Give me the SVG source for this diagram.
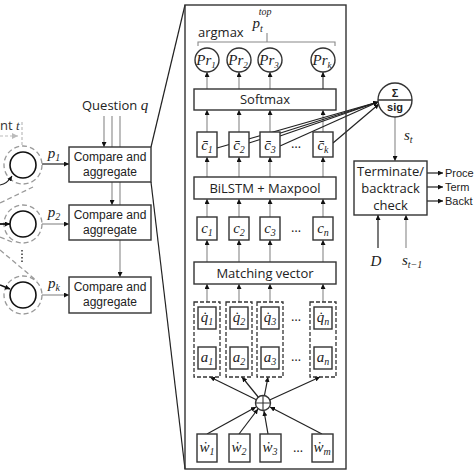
<svg xmlns="http://www.w3.org/2000/svg" width="474" height="474" viewBox="0 0 474 474">
<defs>
<marker id="ah" viewBox="0 0 6 6" refX="6" refY="3" markerWidth="5" markerHeight="5" markerUnits="userSpaceOnUse" orient="auto"><path d="M0,0 L6,3 L0,6 z" fill="#111"/></marker>
<marker id="ahg" viewBox="0 0 6 6" refX="6" refY="3" markerWidth="6" markerHeight="6" markerUnits="userSpaceOnUse" orient="auto"><path d="M0,0 L6,3 L0,6 z" fill="#bbb"/></marker>
<style>
.box{fill:#fff;stroke:#333;stroke-width:1.4}
.dbox{fill:none;stroke:#333;stroke-width:1.3;stroke-dasharray:4,2}
.ln{fill:none;stroke:#888;stroke-width:1.1}
.lk{fill:none;stroke:#222;stroke-width:1.2}
.dg{fill:none;stroke:#999;stroke-width:1.3;stroke-dasharray:5,3}
.t{font-family:"Open Sans","Noto Sans","Liberation Sans",sans-serif;font-size:13px;fill:#222;text-anchor:middle}
.o{font-family:"Liberation Sans",Arial,sans-serif;font-size:11px;fill:#222}
.ca{font-family:"Liberation Sans",Arial,sans-serif;font-size:12px;fill:#222;text-anchor:middle}
.m{font-family:"Liberation Serif","DejaVu Serif",serif;font-style:italic;font-size:15px;fill:#222;text-anchor:middle}
.s{font-size:10px}
</style>
</defs>

<g id="connectors">
<line x1="151" y1="147" x2="185" y2="5" class="lk"/>
<line x1="151" y1="182" x2="185" y2="469" class="lk"/>
<line x1="104" y1="116" x2="104" y2="147" class="ln" marker-end="url(#ah)"/>
<line x1="112" y1="116" x2="112" y2="205" class="ln" marker-end="url(#ah)"/>
<line x1="120" y1="116" x2="120" y2="277" class="ln" marker-end="url(#ah)"/>
<line x1="42" y1="164" x2="69" y2="164" class="lk" marker-end="url(#ah)"/>
<line x1="42" y1="224" x2="69" y2="224" class="ln" marker-end="url(#ah)"/>
<line x1="42" y1="295" x2="69" y2="295" class="ln" marker-end="url(#ah)"/>
<g class="ln">
<line x1="207" y1="89" x2="207" y2="72" marker-end="url(#ah)"/>
<line x1="239" y1="89" x2="239" y2="72" marker-end="url(#ah)"/>
<line x1="270" y1="89" x2="270" y2="72" marker-end="url(#ah)"/>
<line x1="323" y1="89" x2="323" y2="72" marker-end="url(#ah)" stroke="#333"/>
<line x1="207" y1="132" x2="207" y2="110" marker-end="url(#ah)"/>
<line x1="239" y1="132" x2="239" y2="110" marker-end="url(#ah)"/>
<line x1="270" y1="132" x2="270" y2="110" marker-end="url(#ah)"/>
<line x1="323" y1="132" x2="323" y2="110" marker-end="url(#ah)"/>
<line x1="207" y1="177" x2="207" y2="157" marker-end="url(#ah)"/>
<line x1="239" y1="177" x2="239" y2="157" marker-end="url(#ah)"/>
<line x1="270" y1="177" x2="270" y2="157" marker-end="url(#ah)"/>
<line x1="323" y1="177" x2="323" y2="157" marker-end="url(#ah)"/>
<line x1="207" y1="217" x2="207" y2="199" marker-end="url(#ah)"/>
<line x1="239" y1="217" x2="239" y2="199" marker-end="url(#ah)"/>
<line x1="270" y1="217" x2="270" y2="199" marker-end="url(#ah)"/>
<line x1="323" y1="217" x2="323" y2="199" marker-end="url(#ah)"/>
<line x1="207" y1="262" x2="207" y2="240" marker-end="url(#ah)"/>
<line x1="239" y1="262" x2="239" y2="240" marker-end="url(#ah)"/>
<line x1="270" y1="262" x2="270" y2="240" marker-end="url(#ah)"/>
<line x1="323" y1="262" x2="323" y2="240" marker-end="url(#ah)"/>
<line x1="207" y1="302" x2="207" y2="284" marker-end="url(#ah)"/>
<line x1="239" y1="302" x2="239" y2="284" marker-end="url(#ah)"/>
<line x1="270" y1="302" x2="270" y2="284" marker-end="url(#ah)"/>
<line x1="323" y1="302" x2="323" y2="284" marker-end="url(#ah)"/>
</g>
<g class="lk" stroke-width="0.9">
<line x1="217" y1="148" x2="378" y2="102" marker-end="url(#ah)"/>
<line x1="249" y1="143" x2="378" y2="102" marker-end="url(#ah)"/>
<line x1="280" y1="136" x2="378" y2="102" marker-end="url(#ah)"/>
<line x1="280" y1="146" x2="378" y2="102" marker-end="url(#ah)"/>
<line x1="333" y1="143" x2="379" y2="104" marker-end="url(#ah)"/>
</g>
<g class="lk" stroke-width="0.9">
<line x1="263" y1="403" x2="210" y2="377" marker-end="url(#ah)"/>
<line x1="263" y1="403" x2="242" y2="377" marker-end="url(#ah)"/>
<line x1="263" y1="403" x2="268" y2="377" marker-end="url(#ah)"/>
<line x1="263" y1="403" x2="320" y2="377" marker-end="url(#ah)"/>
<line x1="207" y1="434" x2="256" y2="407" marker-end="url(#ah)"/>
<line x1="239" y1="434" x2="258" y2="409" marker-end="url(#ah)"/>
<line x1="268" y1="434" x2="264" y2="411" marker-end="url(#ah)"/>
<line x1="322" y1="434" x2="270" y2="407" marker-end="url(#ah)"/>
</g>
<line x1="395" y1="117" x2="395" y2="161" class="ln" marker-end="url(#ah)"/>
<line x1="427" y1="173" x2="443" y2="173" class="lk" marker-end="url(#ah)"/>
<line x1="427" y1="187" x2="443" y2="187" class="lk" marker-end="url(#ah)"/>
<line x1="427" y1="201" x2="443" y2="201" class="lk" marker-end="url(#ah)"/>
<line x1="378" y1="248" x2="378" y2="215" class="lk" marker-end="url(#ah)"/>
<line x1="406" y1="248" x2="406" y2="215" class="ln" marker-end="url(#ah)"/>
<path d="M198,46 L198,42 L335,42 L335,46 M267,42 L267,33" class="ln"/>
</g>

<g id="left">
<line x1="22" y1="122" x2="22" y2="145" stroke="#bbb" stroke-width="1.2" stroke-dasharray="3,2"/>
<line x1="0" y1="136" x2="18" y2="136" stroke="#bbb" stroke-width="1.2" stroke-dasharray="3,2" marker-end="url(#ahg)"/>
<text x="0" y="130" class="t" style="text-anchor:start;fill:#333">nt <tspan font-family="Liberation Serif" font-style="italic">t</tspan></text>
<circle cx="23" cy="165" r="19" class="dg"/>
<circle cx="23" cy="224" r="19" class="dg"/>
<circle cx="23" cy="295" r="19" class="dg"/>
<line x1="0" y1="203" x2="33" y2="187" class="dg"/>
<line x1="0" y1="237" x2="12" y2="242" class="dg"/>
<line x1="0" y1="250" x2="37" y2="281" class="dg"/>
<line x1="22" y1="250" x2="22" y2="263" stroke="#333" stroke-width="1.5" stroke-dasharray="1.5,2"/>
<circle cx="23" cy="165" r="13" fill="none" stroke="#111" stroke-width="1.6"/>
<circle cx="23" cy="224" r="13" fill="none" stroke="#111" stroke-width="1.6"/>
<circle cx="23" cy="295" r="13" fill="none" stroke="#111" stroke-width="1.6"/>
<path d="M0,185 Q7,184 12,176" class="lk" marker-end="url(#ah)"/>
<line x1="0" y1="224" x2="10" y2="224" stroke="#111" stroke-width="1.8" marker-end="url(#ah)"/>
<line x1="0" y1="285" x2="10" y2="289" stroke="#111" stroke-width="1.6" marker-end="url(#ah)"/>
<text x="54" y="158" class="m">p<tspan class="s" dy="3">1</tspan></text>
<text x="54" y="217" class="m">p<tspan class="s" dy="3">2</tspan></text>
<text x="54" y="288" class="m">p<tspan class="s" dy="3">k</tspan></text>
</g>

<g id="question">
<text x="82" y="110" class="t" style="text-anchor:start">Question <tspan font-family="Liberation Serif" font-style="italic" font-size="15">q</tspan></text>
</g>

<g id="compare1"><rect x="69" y="147" width="82" height="35" class="box"/><text x="110" y="161" class="ca">Compare and</text><text x="110" y="176" class="ca">aggregate</text></g>
<g id="compare2"><rect x="69" y="205" width="82" height="35" class="box"/><text x="110" y="219" class="ca">Compare and</text><text x="110" y="234" class="ca">aggregate</text></g>
<g id="compare3"><rect x="69" y="277" width="82" height="36" class="box"/><text x="110" y="291" class="ca">Compare and</text><text x="110" y="306" class="ca">aggregate</text></g>

<g id="frame"><rect x="185" y="5" width="161" height="464" fill="none" stroke="#333" stroke-width="1.4"/></g>

<g id="ptop">
<text x="198" y="37" class="t" font-size="11.5" style="text-anchor:start">argmax</text>
<text x="262" y="28" class="m" font-size="18">p<tspan class="s" dy="4" font-size="10">t</tspan><tspan font-size="10" dx="-4" dy="-17">top</tspan></text>
</g>

<g id="pr">
<g id="pr1"><circle cx="207" cy="60" r="12" class="box"/><text x="206" y="65" class="m" font-size="13">Pr<tspan font-size="9" dy="3">1</tspan></text></g>
<g id="pr2"><circle cx="239" cy="60" r="12" class="box"/><text x="238" y="65" class="m" font-size="13">Pr<tspan font-size="9" dy="3">2</tspan></text></g>
<g id="pr3"><circle cx="270" cy="60" r="12" class="box"/><text x="269" y="65" class="m" font-size="13">Pr<tspan font-size="9" dy="3">3</tspan></text></g>
<g id="prk"><circle cx="323" cy="60" r="12" class="box"/><text x="322" y="65" class="m" font-size="13">Pr<tspan font-size="9" dy="3">k</tspan></text></g>
</g>

<g id="softmax"><rect x="194" y="89" width="142" height="21" class="box"/><text x="265" y="104" class="t">Softmax</text></g>

<g id="cbar">
<rect x="197" y="132" width="20" height="25" class="box"/><text x="207" y="150" class="m">c̄<tspan class="s" dy="3">1</tspan></text>
<rect x="229" y="132" width="20" height="25" class="box"/><text x="239" y="150" class="m">c̄<tspan class="s" dy="3">2</tspan></text>
<rect x="260" y="132" width="20" height="25" class="box"/><text x="270" y="150" class="m">c̄<tspan class="s" dy="3">3</tspan></text>
<text x="296" y="148" class="t" font-size="10">…</text>
<rect x="313" y="132" width="20" height="25" class="box"/><text x="323" y="150" class="m">c̄<tspan class="s" dy="3">k</tspan></text>
</g>

<g id="bilstm"><rect x="194" y="177" width="142" height="22" class="box"/><text x="265" y="193" class="t">BiLSTM + Maxpool</text></g>

<g id="c">
<rect x="197" y="217" width="20" height="23" class="box"/><text x="207" y="233" class="m">c<tspan class="s" dy="3">1</tspan></text>
<rect x="229" y="217" width="20" height="23" class="box"/><text x="239" y="233" class="m">c<tspan class="s" dy="3">2</tspan></text>
<rect x="260" y="217" width="20" height="23" class="box"/><text x="270" y="233" class="m">c<tspan class="s" dy="3">3</tspan></text>
<text x="296" y="232" class="t" font-size="10">…</text>
<rect x="313" y="217" width="20" height="23" class="box"/><text x="323" y="233" class="m">c<tspan class="s" dy="3">n</tspan></text>
</g>

<g id="matching"><rect x="194" y="262" width="142" height="22" class="box"/><text x="265" y="278" class="t">Matching vector</text></g>

<g id="qa">
<rect x="194" y="302" width="26" height="75" class="dbox"/>
<rect x="226" y="302" width="26" height="75" class="dbox"/>
<rect x="257" y="302" width="26" height="75" class="dbox"/>
<rect x="310" y="302" width="26" height="75" class="dbox"/>
<rect x="198" y="307" width="18" height="22" class="box"/><text x="207" y="322" class="m">q̇<tspan class="s" dy="3">1</tspan></text>
<rect x="230" y="307" width="18" height="22" class="box"/><text x="239" y="322" class="m">q̇<tspan class="s" dy="3">2</tspan></text>
<rect x="261" y="307" width="18" height="22" class="box"/><text x="270" y="322" class="m">q̇<tspan class="s" dy="3">3</tspan></text>
<rect x="314" y="307" width="18" height="22" class="box"/><text x="323" y="322" class="m">q̇<tspan class="s" dy="3">n</tspan></text>
<text x="296" y="321" class="t" font-size="10">…</text>
<rect x="198" y="347" width="18" height="22" class="box"/><text x="207" y="362" class="m">a<tspan class="s" dy="3">1</tspan></text>
<rect x="230" y="347" width="18" height="22" class="box"/><text x="239" y="362" class="m">a<tspan class="s" dy="3">2</tspan></text>
<rect x="261" y="347" width="18" height="22" class="box"/><text x="270" y="362" class="m">a<tspan class="s" dy="3">3</tspan></text>
<rect x="314" y="347" width="18" height="22" class="box"/><text x="323" y="362" class="m">a<tspan class="s" dy="3">n</tspan></text>
<text x="296" y="361" class="t" font-size="10">…</text>
</g>

<g id="oplus"><circle cx="263" cy="403" r="7.5" class="box" stroke-width="1.1"/><path d="M255.5,403 H270.5 M263,395.5 V410.5" stroke="#333" stroke-width="1.1"/></g>

<g id="w">
<rect x="197" y="434" width="20" height="28" class="box"/><text x="207" y="452" class="m">ẇ<tspan class="s" dy="3">1</tspan></text>
<rect x="229" y="434" width="21" height="28" class="box"/><text x="239" y="452" class="m">ẇ<tspan class="s" dy="3">2</tspan></text>
<rect x="260" y="434" width="21" height="28" class="box"/><text x="270" y="452" class="m">ẇ<tspan class="s" dy="3">3</tspan></text>
<text x="298" y="452" class="t" font-size="10">…</text>
<rect x="312" y="434" width="21" height="28" class="box"/><text x="322" y="452" class="m">ẇ<tspan class="s" dy="3">m</tspan></text>
</g>

<g id="sigma"><circle cx="395" cy="100" r="17" class="box" stroke-width="1.6"/><line x1="378" y1="100" x2="412" y2="100" stroke="#333" stroke-width="1.4"/><text x="395" y="97" class="o" text-anchor="middle" font-weight="bold" font-size="11">Σ</text><text x="395" y="111" class="o" text-anchor="middle" font-weight="bold" font-size="10">sig</text></g>

<g id="st"><text x="404" y="140" class="m" style="text-anchor:start">s<tspan class="s" dy="3">t</tspan></text></g>

<g id="terminate"><rect x="354" y="161" width="73" height="54" class="box"/><text x="390.5" y="176" class="t" font-size="13">Terminate/</text><text x="390.5" y="193" class="t" font-size="13">backtrack</text><text x="390.5" y="210" class="t" font-size="13">check</text></g>

<g id="outputs">
<text x="445" y="177" class="o">Proce</text>
<text x="445" y="191" class="o">Term</text>
<text x="445" y="205" class="o">Backt</text>
</g>

<g id="inputs">
<text x="376" y="266" class="m" font-size="16">D</text>
<text x="402" y="265" class="m" style="text-anchor:start">s<tspan class="s" dy="3">t−1</tspan></text>
</g>
</svg>
